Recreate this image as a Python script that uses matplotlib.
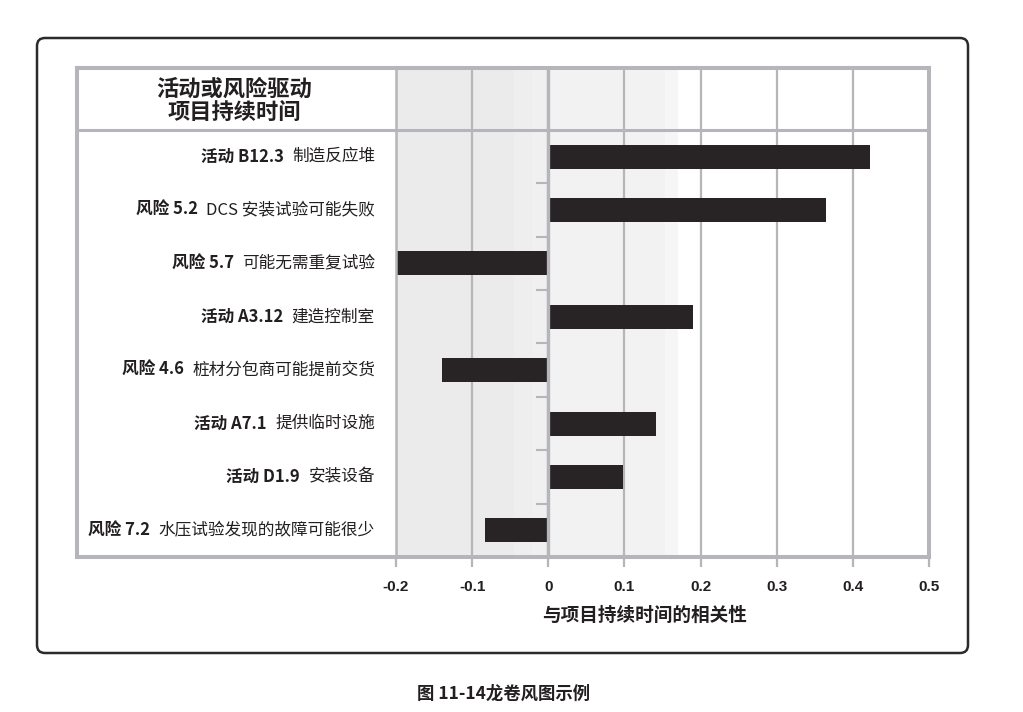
import matplotlib
matplotlib.use("Agg")
import matplotlib.pyplot as plt
from matplotlib.patches import FancyBboxPatch

plt.rcParams['font.family'] = ['Noto Sans CJK SC', 'DejaVu Sans']

# data
item_codes = ["活动 B12.3", "风险 5.2", "风险 5.7", "活动 A3.12",
              "风险 4.6", "活动 A7.1", "活动 D1.9", "风险 7.2"]
item_names = ["制造反应堆", "DCS 安装试验可能失败", "可能无需重复试验", "建造控制室",
              "桩材分包商可能提前交货", "提供临时设施", "安装设备", "水压试验发现的故障可能很少"]
correlation = [0.422, 0.365, -0.20, 0.19, -0.139, 0.141, 0.098, -0.083]

xticks = [-0.2, -0.1, 0, 0.1, 0.2, 0.3, 0.4, 0.5]
xtick_labels = ["-0.2", "-0.1", "0", "0.1", "0.2", "0.3", "0.4", "0.5"]

# background bands (darker on the negative side, fading out to white)
band_edges = [-0.2, -0.045, -0.022, 0.0, 0.153, 0.171]
band_colors = ["#ebebeb", "#eeeeee", "#f0f0f0", "#f2f2f2", "#f6f6f6"]

header = "活动或风险驱动\n项目持续时间"
xlabel = "与项目持续时间的相关性"
caption = "图 11-14龙卷风图示例"

W, H = 1023, 712
GRAY = "#b6b6ba"
BAR = "#282425"
INK = "#231f20"


def fx(px):
    return px / W


def fy(py):
    return 1 - py / H


fig = plt.figure(figsize=(W / 100, H / 100), dpi=100)

top, bottom = 68, 557
ax = fig.add_axes([fx(396), fy(bottom), fx(929) - fx(396), fy(top) - fy(bottom)])
ax_lab = fig.add_axes([fx(77), fy(bottom), fx(396) - fx(77), fy(top) - fy(bottom)], sharey=ax)

n = len(correlation)
rows = list(range(n))
header_rows = 1.16
ax.set_ylim(n - 0.5, -0.5 - header_rows)
ax.set_xlim(xticks[0], xticks[-1])

for lo, hi, c in zip(band_edges[:-1], band_edges[1:], band_colors):
    ax.axvspan(lo, hi, color=c, lw=0, zorder=0)

ax.barh(rows, correlation, height=0.45, color=BAR, zorder=2)

ax.set_axisbelow(True)
ax.grid(axis='x', color=GRAY, lw=1.6)
ax.grid(axis='y', visible=False)

# frame
for side in ("top", "right", "bottom"):
    ax.spines[side].set_color(GRAY)
    ax.spines[side].set_linewidth(2.9)
ax.spines["left"].set_position(("data", 0))
ax.spines["left"].set_color(GRAY)
ax.spines["left"].set_linewidth(2.4)

ax.axhline(-0.5, color=GRAY, lw=2.2, zorder=1)
ax_lab.axhline(-0.5, color=GRAY, lw=2.2)

ax.set_xticks(xticks, labels=xtick_labels)
ax.tick_params(axis='x', direction='out', length=7.5, width=1.6, color=GRAY,
               pad=9, labelsize=11, labelcolor=INK)
for lbl in ax.get_xticklabels():
    lbl.set_fontfamily(['Liberation Sans', 'DejaVu Sans'])
    lbl.set_fontweight('bold')

# small separators between rows on the zero line
ax.set_yticks([r + 0.5 for r in rows[:-1]])
ax.tick_params(axis='y', direction='out', length=9, width=1.5, color=GRAY,
               labelleft=False)

# label column
ax_lab.set_xlim(0, 1)
for side in ("top", "left", "bottom"):
    ax_lab.spines[side].set_color(GRAY)
    ax_lab.spines[side].set_linewidth(2.9)
ax_lab.spines["right"].set_color(GRAY)
ax_lab.spines["right"].set_linewidth(1.8)
ax_lab.tick_params(left=False, labelleft=False, bottom=False, labelbottom=False)

for r, code, name in zip(rows, item_codes, item_names):
    t = ax_lab.text(0.934, r, name, ha='right', va='center', fontsize=12, color=INK)
    ax_lab.annotate(code, xy=(0, 0.5), xycoords=t, xytext=(-6, 0),
                    textcoords='offset points', ha='right', va='center',
                    fontsize=12, fontweight='bold', color=INK)

ax_lab.text(0.492, -0.5 - header_rows / 2 + 0.04, header, ha='center', va='center',
            fontsize=16, fontweight='bold', color=INK, linespacing=1.0)

fig.text(fx(645), fy(615), xlabel, ha='center', va='center', fontsize=13.4,
         fontweight='bold', color=INK)
fig.text(fx(504), fy(694), caption, ha='center', va='center', fontsize=12.5,
         fontweight='bold', color=INK)

# outer rounded box
box = FancyBboxPatch((fx(37), fy(653)), fx(968) - fx(37), fy(38) - fy(653),
                     boxstyle=f"round,pad=0,rounding_size={8 / W}",
                     mutation_aspect=W / H, transform=fig.transFigure,
                     fill=False, ec="#2b2b2b", lw=1.8)
fig.add_artist(box)

fig.savefig("out.png", dpi=100)
